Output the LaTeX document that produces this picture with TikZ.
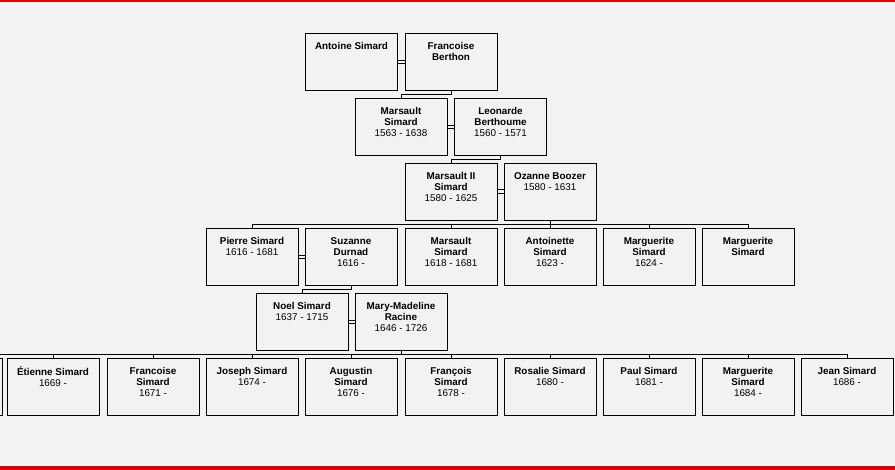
\documentclass[tikz,border=0pt]{standalone}
\usepackage{fontspec}
\setmainfont{Liberation Sans}
\begin{document}
\begin{tikzpicture}[x=0.75pt,y=-0.75pt,
  box/.style={draw=black,line width=0.7pt,minimum width=69pt,minimum height=42.75pt,inner sep=0pt},
  txt/.style={anchor=north,align=center,font=\fontsize{7.4}{8.3}\selectfont,inner sep=0pt,yshift=-7pt},
  conn/.style={draw=black,line width=0.6pt}]
\useasboundingbox (0,0) rectangle (895,470);
\fill[white!95!black] (0,0) rectangle (895,470);
\fill[red!85!black] (0,0) rectangle (895,2.5);
\fill[red!85!black] (0,465.5) rectangle (895,470);
\clip (0,0) rectangle (895,470);
\newcommand{\pbox}[4]{\node[box] (#1) at (#2,#3) {}; \node[txt] at (#1.north) {#4};}
% row 1
\pbox{a1}{351.5}{62}{\textbf{Antoine Simard}}
\pbox{a2}{451}{62}{\textbf{Francoise}\\\textbf{Berthon}}
% row 2
\pbox{b1}{401}{127}{\textbf{Marsault}\\\textbf{Simard}\\1563 - 1638}
\pbox{b2}{500.5}{127}{\textbf{Leonarde}\\\textbf{Berthoume}\\1560 - 1571}
% row 3
\pbox{c1}{451}{191.5}{\textbf{Marsault II}\\\textbf{Simard}\\1580 - 1625}
\pbox{c2}{550}{191.5}{\textbf{Ozanne Boozer}\\1580 - 1631}
% row 4
\pbox{d1}{252}{256.5}{\textbf{Pierre Simard}\\1616 - 1681}
\pbox{d2}{351}{256.5}{\textbf{Suzanne}\\\textbf{Durnad}\\1616 -}
\pbox{d3}{451}{256.5}{\textbf{Marsault}\\\textbf{Simard}\\1618 - 1681}
\pbox{d4}{550}{256.5}{\textbf{Antoinette}\\\textbf{Simard}\\1623 -}
\pbox{d5}{649}{256.5}{\textbf{Marguerite}\\\textbf{Simard}\\1624 -}
\pbox{d6}{748}{256.5}{\textbf{Marguerite}\\\textbf{Simard}}
% row 5
\pbox{e1}{302}{321.5}{\textbf{Noel Simard}\\1637 - 1715}
\pbox{e2}{401}{321.5}{\textbf{Mary-Madeline}\\\textbf{Racine}\\1646 - 1726}
% row 6
\node[box] (f0) at (-44,386.5) {};
\pbox{f1}{53}{386.5}{\textbf{Étienne Simard}\\1669 -}
\pbox{f2}{153}{386.5}{\textbf{Francoise}\\\textbf{Simard}\\1671 -}
\pbox{f3}{252}{386.5}{\textbf{Joseph Simard}\\1674 -}
\pbox{f4}{351}{386.5}{\textbf{Augustin}\\\textbf{Simard}\\1676 -}
\pbox{f5}{451}{386.5}{\textbf{François}\\\textbf{Simard}\\1678 -}
\pbox{f6}{550}{386.5}{\textbf{Rosalie Simard}\\1680 -}
\pbox{f7}{649}{386.5}{\textbf{Paul Simard}\\1681 -}
\pbox{f8}{748}{386.5}{\textbf{Marguerite}\\\textbf{Simard}\\1684 -}
\pbox{f9}{847}{386.5}{\textbf{Jean Simard}\\1686 -}
% couple links
\foreach \p/\q in {a1/a2,b1/b2,c1/c2,d1/d2,e1/e2}{
  \draw[conn] ([yshift=1.2pt]\p.east) -- ([yshift=1.2pt]\q.west);
  \draw[conn] ([yshift=-1.2pt]\p.east) -- ([yshift=-1.2pt]\q.west);}
% child links
\draw[conn] (a2.south) -- ++(0,3) -| (b1.north);
\draw[conn] (b2.south) -- ++(0,3.5) -| (c1.north);
\draw[conn] (d2.south) -- ++(0,3.5) -| (e1.north);
\draw[conn] (c2.south) -- ++(0,3.5) coordinate (bus1);
\draw[conn] (d1.north|-bus1) -- (d6.north|-bus1);
\foreach \n in {d1,d3,d4,d5,d6}{\draw[conn] (\n.north|-bus1) -- (\n.north);}
\draw[conn] (e2.south) -- ++(0,3.5) coordinate (bus2);
\draw[conn] (f0.north|-bus2) -- (f9.north|-bus2);
\foreach \n in {f0,f1,f2,f3,f4,f5,f6,f7,f8,f9}{\draw[conn] (\n.north|-bus2) -- (\n.north);}
\end{tikzpicture}
\end{document}
